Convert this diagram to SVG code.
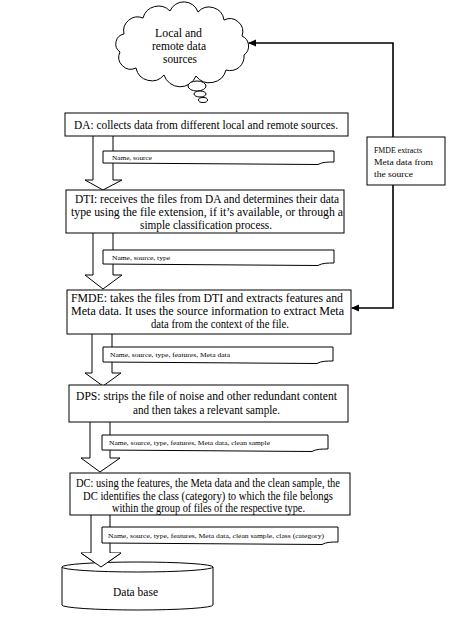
<svg xmlns="http://www.w3.org/2000/svg" width="474" height="619" viewBox="0 0 474 619">
<style>
.box{fill:#fff;stroke:#000;stroke-width:1}
.lbl{fill:#fff;stroke:#000;stroke-width:1}
.t{font-family:"Liberation Serif",serif;font-size:11.5px;fill:#000;text-anchor:middle}
.s{font-family:"Liberation Serif",serif;font-size:7px;fill:#000}
.f{font-family:"Liberation Serif",serif;font-size:9px;fill:#000}
.arr{fill:#fff;stroke:#000;stroke-width:1}
.fb{fill:none;stroke:#000;stroke-width:1.6}
</style>
<defs>
<marker id="ah" markerWidth="8" markerHeight="8" refX="7" refY="4" orient="auto" markerUnits="userSpaceOnUse">
<path d="M0,0.5 L8,4 L0,7.5 Z" fill="#000"/>
</marker>
</defs>
<rect width="474" height="619" fill="#fff"/>

<g id="sources">
<path class="box" d="M120,52 A10,10 0 0 1 124,34 A14,14 0 0 1 143,18 A16,16 0 0 1 170,11 A15,15 0 0 1 198,12 A15,15 0 0 1 224,20 A13,13 0 0 1 242,36 A11,11 0 0 1 244,55 A14,14 0 0 1 226,70 A17,17 0 0 1 196,76 A17,17 0 0 1 164,75 A16,16 0 0 1 136,68 A12,12 0 0 1 120,52 Z"/>
<ellipse class="box" cx="197" cy="86" rx="9" ry="5"/>
<ellipse class="box" cx="200" cy="94" rx="6" ry="3"/>
<ellipse class="box" cx="203" cy="100" rx="4.5" ry="2.5"/>
<text class="t" x="178.5" y="37" textLength="47" lengthAdjust="spacingAndGlyphs">Local and</text>
<text class="t" x="179" y="50" textLength="54" lengthAdjust="spacingAndGlyphs">remote data</text>
<text class="t" x="180" y="63" textLength="34" lengthAdjust="spacingAndGlyphs">sources</text>
</g>

<g id="connectors">
<path class="arr" d="M93,136 V180 H85 L103,190 L122,180 H113 V136"/>
<path class="arr" d="M93,233 V275 H85 L103,289 L122,275 H113 V233"/>
<path class="arr" d="M92,334 V373 H85 L103,386 L121,373 H112 V334"/>
<path class="arr" d="M90,422 V458 H81 L100,472 L120,458 H110 V422"/>
<path class="arr" d="M91,515 V553 H81 L101,567 L121,553 H110 V515"/>
<path class="fb" d="M393,137 V43 H249" marker-end="url(#ah)"/>
<path class="fb" d="M393,185 V308 H352" marker-end="url(#ah)"/>
</g>

<g id="DA">
<rect class="box" x="65" y="113" width="283" height="23"/>
<text class="t" x="206" y="129" textLength="264" lengthAdjust="spacingAndGlyphs">DA: collects data from different local and remote sources.</text>
</g>
<g id="label1">
<path class="lbl" d="M103,151 H334 V162 C328,162 322,162 318,164.5 L103,163 Z"/>
<text class="s" x="112" y="159.5" textLength="40" lengthAdjust="spacingAndGlyphs">Name, source</text>
</g>

<g id="DTI">
<rect class="box" x="66" y="190" width="278" height="43"/>
<text class="t" x="207" y="203" textLength="264" lengthAdjust="spacingAndGlyphs">DTI: receives the files from DA and determines their data</text>
<text class="t" x="207" y="216" textLength="272" lengthAdjust="spacingAndGlyphs">type using the file extension, if it’s available, or through a</text>
<text class="t" x="206" y="229" textLength="132" lengthAdjust="spacingAndGlyphs">simple classification process.</text>
</g>
<g id="label2">
<path class="lbl" d="M103,250 H334 V263 C328,263 322,263 318,265.5 L103,264 Z"/>
<text class="s" x="112" y="259.5" textLength="58" lengthAdjust="spacingAndGlyphs">Name, source, type</text>
</g>

<g id="FMDE">
<rect class="box" x="67" y="290" width="284" height="44"/>
<text class="t" x="207" y="302" textLength="272" lengthAdjust="spacingAndGlyphs">FMDE: takes the files from DTI and extracts features and</text>
<text class="t" x="207.5" y="315" textLength="273" lengthAdjust="spacingAndGlyphs">Meta data. It uses the source information to extract Meta</text>
<text class="t" x="220" y="328" textLength="138" lengthAdjust="spacingAndGlyphs">data from the context of the file.</text>
</g>
<g id="label3">
<path class="lbl" d="M103,347 H333 V361 C327,361 321,361 317,363.5 L103,362 Z"/>
<text class="s" x="110" y="357" textLength="120" lengthAdjust="spacingAndGlyphs">Name, source, type, features, Meta data</text>
</g>

<g id="DPS">
<rect class="box" x="69" y="385" width="279" height="37"/>
<text class="t" x="206.5" y="400" textLength="261" lengthAdjust="spacingAndGlyphs">DPS: strips the file of noise and other redundant content</text>
<text class="t" x="206.5" y="414" textLength="147" lengthAdjust="spacingAndGlyphs">and then takes a relevant sample.</text>
</g>
<g id="label4">
<path class="lbl" d="M102,435 H328 V449 C322,449 316,449 312,451.5 L102,450 Z"/>
<text class="s" x="109" y="445" textLength="161" lengthAdjust="spacingAndGlyphs">Name, source, type, features, Meta data, clean sample</text>
</g>

<g id="DC">
<rect class="box" x="70" y="473" width="280" height="42"/>
<text class="t" x="208" y="487" textLength="264" lengthAdjust="spacingAndGlyphs">DC: using the features, the Meta data and the clean sample, the</text>
<text class="t" x="208" y="500" textLength="250" lengthAdjust="spacingAndGlyphs">DC identifies the class (category) to which the file belongs</text>
<text class="t" x="208.5" y="512" textLength="193" lengthAdjust="spacingAndGlyphs">within the group of files of the respective type.</text>
</g>
<g id="label5">
<path class="lbl" d="M102,527 H338 V542 C332,542 326,542 322,544.5 L102,543 Z"/>
<text class="s" x="108" y="537.5" textLength="216" lengthAdjust="spacingAndGlyphs">Name, source, type, features, Meta data, clean sample, class (category)</text>
</g>

<g id="database">
<path class="box" d="M62,567 V605 A75.5,5 0 0 0 213,605 V567"/>
<ellipse class="box" cx="137.5" cy="567" rx="75.5" ry="5"/>
<text class="t" x="135.5" y="596" textLength="45" lengthAdjust="spacingAndGlyphs">Data base</text>
</g>
<path class="arr" d="M81,553 L101,567 L121,553" fill="none"/>

<g id="feedback">
<rect class="box" x="367" y="137" width="78" height="48"/>
<text class="f" x="374" y="153" textLength="48" lengthAdjust="spacingAndGlyphs">FMDE extracts</text>
<text class="f" x="374" y="165" textLength="59" lengthAdjust="spacingAndGlyphs">Meta data from</text>
<text class="f" x="374" y="177" textLength="39" lengthAdjust="spacingAndGlyphs">the source</text>
</g>
</svg>
